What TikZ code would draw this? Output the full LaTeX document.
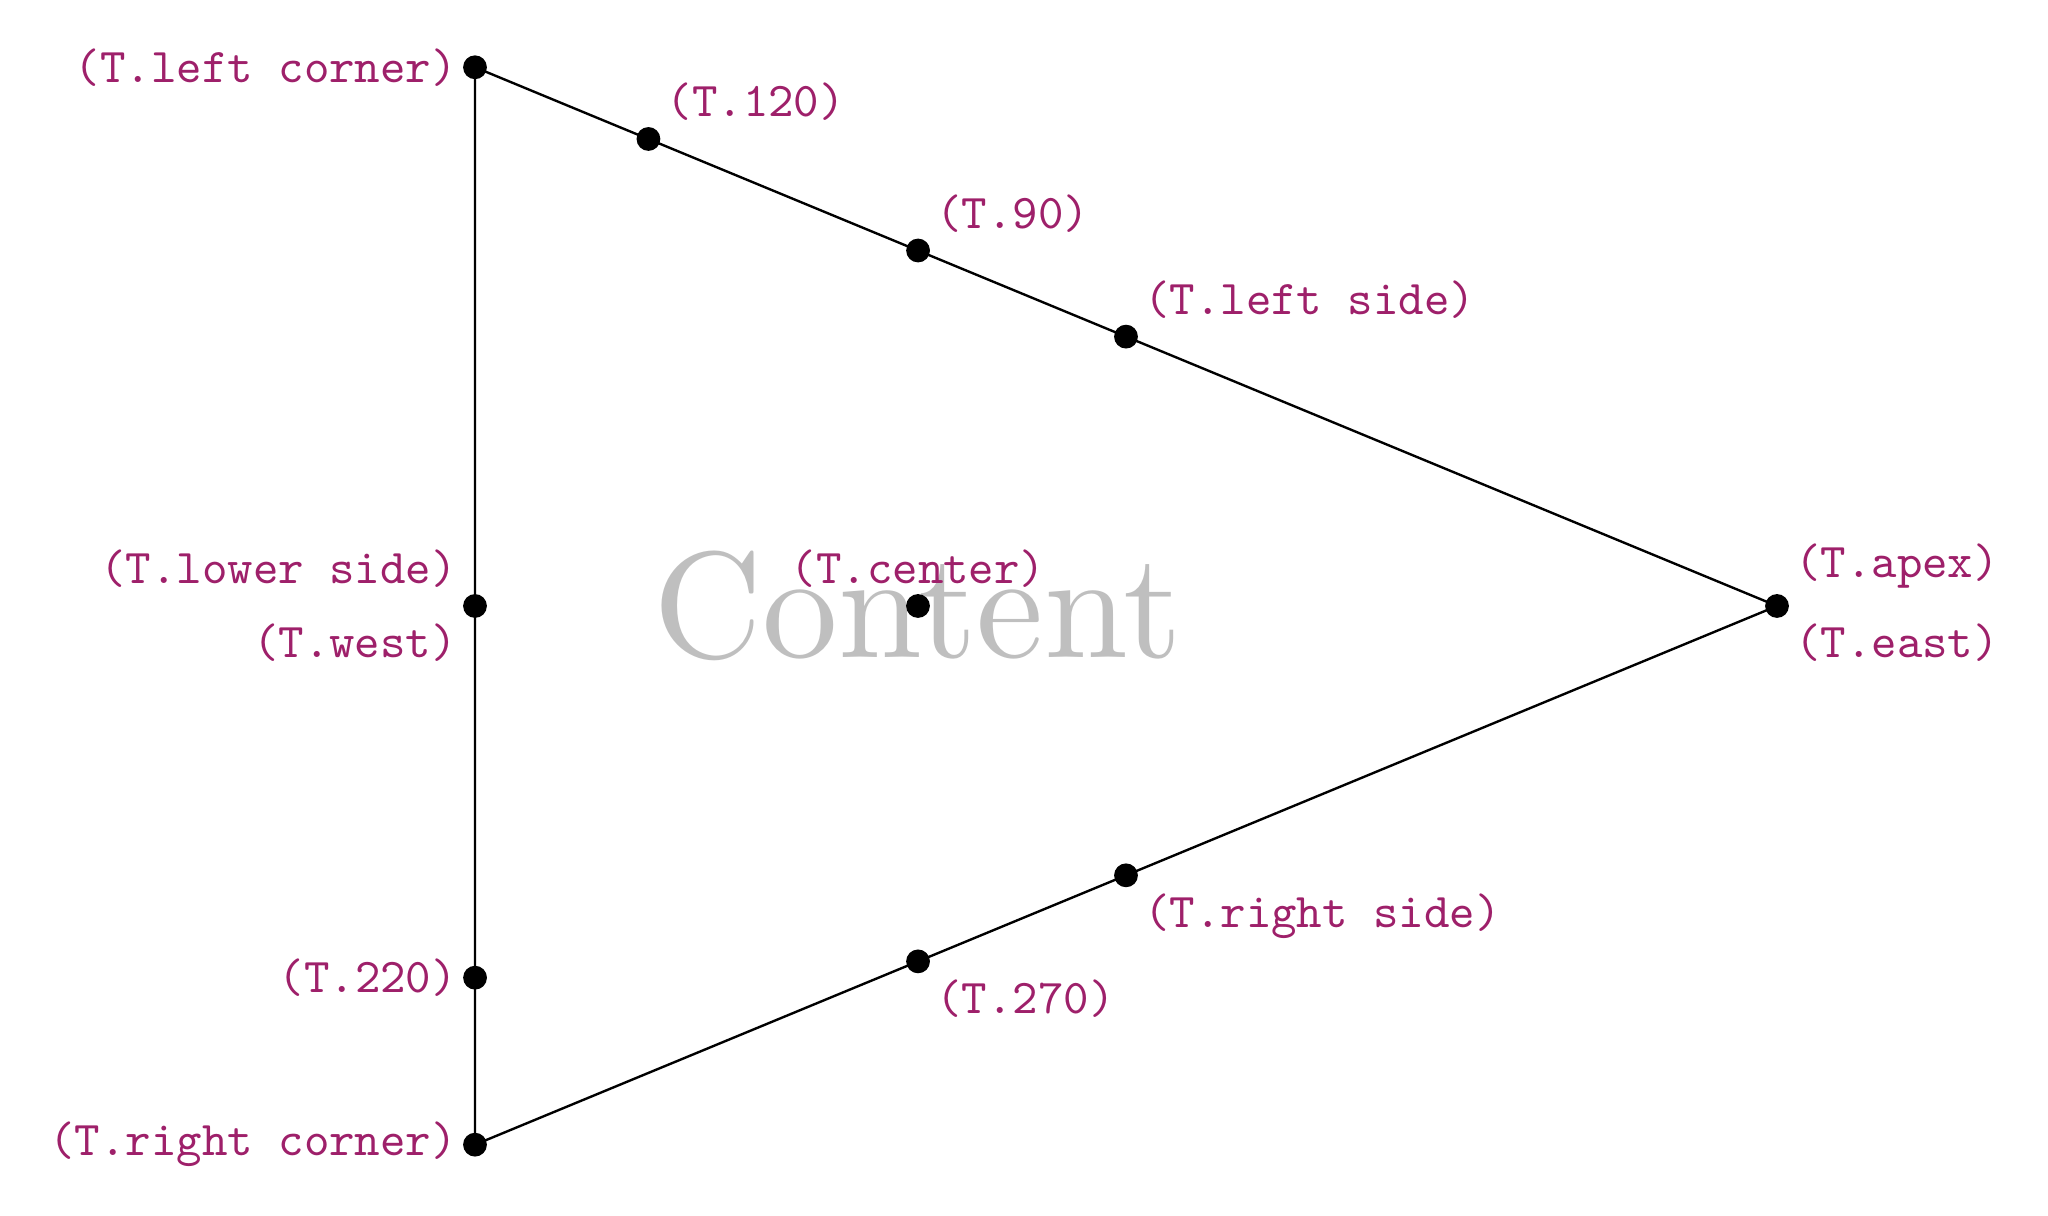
\documentclass[tikz,border=0pt]{standalone}
\usetikzlibrary{calc}
\definecolor{lblc}{RGB}{158,32,106}
\font\lblfnt="[lmmono10-regular.otf]" at 13.8pt
\font\contentfnt="[lmroman10-regular.otf]" at 43pt
\begin{document}
\begin{tikzpicture}[
  edge/.style={line width=0.68pt, black, line join=miter},
  dot/.style={circle, fill=black, inner sep=0pt, minimum size=0.238cm},
  lbl/.style={text=lblc, inner sep=0.175cm, font=\lblfnt},
  content/.style={text=black!25, inner sep=0pt, font=\contentfnt}
]
\useasboundingbox (0,0) rectangle (20.48,12.16);
% corners and reference points
\coordinate (lc) at (4.75,11.487);
\coordinate (rc) at (4.75,0.713);
\coordinate (ap) at (17.77,6.10);
\coordinate (c)  at (9.18,6.10);
\coordinate (w)  at (4.75,6.10);
\coordinate (ls) at ($(lc)!0.5!(ap)$);
\coordinate (rs) at ($(rc)!0.5!(ap)$);
\coordinate (d90)  at ($(c)+(90:5)$);
\coordinate (d270) at ($(c)+(270:5)$);
\coordinate (d120) at ($(c)+(120:5)$);
\coordinate (d220) at ($(c)+(220:5)$);
\coordinate (a90)  at (intersection of lc--ap and c--d90);
\coordinate (a270) at (intersection of rc--ap and c--d270);
\coordinate (a120) at (intersection of lc--ap and c--d120);
\coordinate (a220) at (intersection of lc--rc and c--d220);

% content text
\node[content] (txt) at (c) {Content};

% triangle
\draw[edge] (lc) -- (ap) -- (rc) -- cycle;

% dots
\foreach \p in {lc,rc,ap,c,w,ls,rs,a90,a270,a120,a220}
  \node[dot] (dot-\p) at (\p) {};

% labels
\node[lbl, left]        (l-lc)  at (lc)   {(T.left corner)};
\node[lbl, left]        (l-rc)  at (rc)   {(T.right corner)};
\node[lbl, above right] (l-a120) at (a120) {(T.120)};
\node[lbl, above right] (l-a90)  at (a90)  {(T.90)};
\node[lbl, above right] (l-ls)  at (ls)   {(T.left side)};
\node[lbl, below right] (l-rs)  at (rs)   {(T.right side)};
\node[lbl, below right] (l-a270) at (a270) {(T.270)};
\node[lbl, left]        (l-a220) at (a220) {(T.220)};
\node[lbl, above left]  (l-low) at (w)    {(T.lower side)};
\node[lbl, below left]  (l-w)   at (w)    {(T.west)};
\node[lbl, above]       (l-c)   at (c)    {(T.center)};
\node[lbl, above right] (l-ap)  at (ap)   {(T.apex)};
\node[lbl, below right] (l-e)   at (ap)   {(T.east)};
\end{tikzpicture}
\end{document}
